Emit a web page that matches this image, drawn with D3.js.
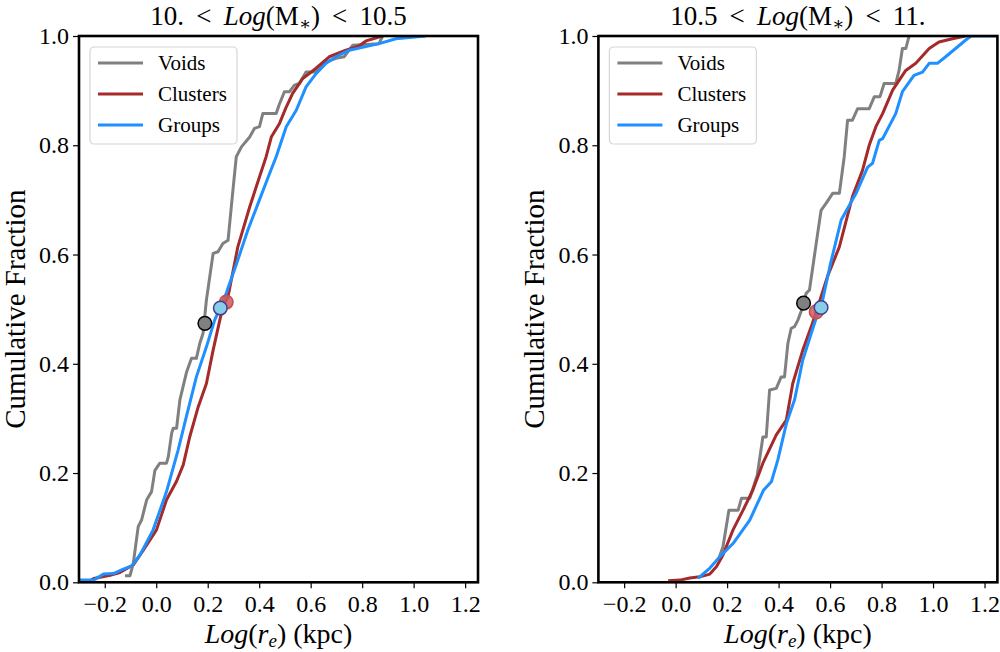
<!DOCTYPE html>
<html>
<head>
<meta charset="utf-8">
<script src="https://cdn.jsdelivr.net/npm/d3@7"></script>
<style>
  body { margin: 0; background: #fff; }
  svg { display: block; font-family: "Liberation Serif", "DejaVu Serif", serif; }
</style>
</head>
<body>
<div id="chart"></div>
<script>
// cumulative distributions of Log(r_e): [logRe, fraction]
var samples = ["Voids", "Clusters", "Groups"];
var sampleColors = ["#808080", "#a52a2a", "#1e90ff"];
var markerFill = ["#808080", "#cd5c5c", "#87ceeb"];
var markerEdge = ["#000000", "#c05050", "#483d8b"];

var titleLow = ["10.", "10.5"];
var titleHigh = ["10.5", "11."];

var xTicks = [-0.2, 0.0, 0.2, 0.4, 0.6, 0.8, 1.0, 1.2];
var yTicks = [0.0, 0.2, 0.4, 0.6, 0.8, 1.0];

var voidsLow = [[-0.121,0.012],[-0.102,0.012],[-0.089,0.035],[-0.070,0.102],[-0.057,0.114],[-0.037,0.151],[-0.018,0.166],[-0.005,0.205],[0.014,0.218],[0.040,0.218],[0.047,0.230],[0.060,0.273],[0.066,0.282],[0.079,0.282],[0.092,0.334],[0.118,0.385],[0.137,0.410],[0.156,0.410],[0.169,0.437],[0.182,0.456],[0.195,0.517],[0.221,0.602],[0.240,0.605],[0.259,0.620],[0.279,0.626],[0.298,0.718],[0.311,0.779],[0.331,0.797],[0.363,0.815],[0.382,0.831],[0.401,0.834],[0.414,0.858],[0.466,0.858],[0.479,0.876],[0.498,0.898],[0.518,0.898],[0.537,0.910],[0.556,0.913],[0.582,0.934],[0.621,0.934],[0.647,0.950],[0.698,0.959],[0.730,0.962],[0.763,0.983],[0.865,0.986],[0.880,1.0]];
var clustersLow = [[-0.26,0.002],[-0.243,0.007],[-0.179,0.013],[-0.141,0.018],[-0.089,0.032],[-0.050,0.059],[0.001,0.096],[0.040,0.151],[0.079,0.185],[0.105,0.215],[0.130,0.266],[0.163,0.321],[0.195,0.364],[0.221,0.425],[0.247,0.480],[0.259,0.504],[0.279,0.523],[0.317,0.614],[0.363,0.687],[0.401,0.742],[0.427,0.779],[0.447,0.815],[0.479,0.840],[0.505,0.870],[0.530,0.895],[0.569,0.922],[0.621,0.941],[0.672,0.962],[0.737,0.974],[0.789,0.982],[0.815,0.991],[0.879,1.0]];
var groupsLow = [[-0.30,0.004],[-0.243,0.004],[-0.205,0.015],[-0.166,0.016],[-0.128,0.024],[-0.095,0.030],[-0.063,0.050],[-0.012,0.096],[0.040,0.166],[0.085,0.242],[0.118,0.305],[0.156,0.376],[0.195,0.431],[0.227,0.480],[0.247,0.501],[0.272,0.529],[0.317,0.590],[0.356,0.645],[0.401,0.700],[0.440,0.748],[0.466,0.779],[0.505,0.834],[0.544,0.864],[0.582,0.907],[0.621,0.931],[0.660,0.950],[0.698,0.962],[0.750,0.974],[0.866,0.986],[0.931,0.995],[1.047,1.0]];
var mediansLow = [[0.189,0.474],[0.272,0.513],[0.249,0.502]];

var voidsHigh = [[0.165,0.040],[0.184,0.065],[0.207,0.132],[0.243,0.132],[0.256,0.154],[0.288,0.154],[0.317,0.196],[0.339,0.266],[0.352,0.266],[0.365,0.352],[0.391,0.355],[0.410,0.376],[0.423,0.376],[0.436,0.437],[0.449,0.465],[0.462,0.468],[0.475,0.480],[0.494,0.504],[0.507,0.529],[0.520,0.535],[0.546,0.620],[0.565,0.681],[0.585,0.694],[0.610,0.712],[0.636,0.712],[0.655,0.779],[0.668,0.846],[0.687,0.846],[0.707,0.867],[0.752,0.867],[0.772,0.889],[0.794,0.889],[0.810,0.913],[0.855,0.913],[0.868,0.937],[0.881,0.977],[0.894,0.977],[0.907,1.0]];
var clustersHigh = [[-0.029,0.003],[0.017,0.004],[0.055,0.008],[0.094,0.010],[0.133,0.015],[0.159,0.029],[0.184,0.050],[0.223,0.096],[0.262,0.132],[0.300,0.169],[0.339,0.218],[0.391,0.270],[0.430,0.297],[0.455,0.364],[0.494,0.425],[0.527,0.468],[0.546,0.495],[0.590,0.560],[0.636,0.614],[0.687,0.706],[0.726,0.754],[0.752,0.800],[0.778,0.834],[0.804,0.858],[0.843,0.901],[0.894,0.937],[0.933,0.950],[0.985,0.977],[1.023,0.989],[1.075,0.995],[1.126,1.0]];
var groupsHigh = [[0.087,0.007],[0.133,0.026],[0.172,0.047],[0.223,0.071],[0.288,0.114],[0.342,0.169],[0.372,0.184],[0.397,0.224],[0.430,0.290],[0.462,0.334],[0.494,0.407],[0.527,0.456],[0.552,0.492],[0.565,0.503],[0.600,0.580],[0.643,0.663],[0.701,0.712],[0.746,0.760],[0.765,0.767],[0.791,0.809],[0.804,0.812],[0.855,0.858],[0.881,0.898],[0.926,0.928],[0.959,0.934],[0.985,0.950],[1.017,0.950],[1.049,0.962],[1.133,0.995],[1.150,1.0],[1.250,1.0]];
var mediansHigh = [[0.497,0.511],[0.546,0.495],[0.565,0.503]];

var WIDTH = 1000, HEIGHT = 652;

var svg = d3.select("#chart").append("svg")
    .attr("width", WIDTH)
    .attr("height", HEIGHT);

function drawPanel(left, curves, medians, title) {
    /* one panel: axes, the three CDFs, the median markers and the legend */
    var top = 36, bottom = 582.3, w = 399;
    var x = d3.scaleLinear().domain([-0.3, 1.25]).range([left, left + w]);
    var y = d3.scaleLinear().domain([0, 1]).range([bottom, top]);
    var g = svg.append("g");

    var clipId = "clip" + Math.round(left);
    g.append("clipPath").attr("id", clipId)
        .append("rect").attr("x", left).attr("y", top).attr("width", w).attr("height", bottom - top);

    var line = d3.line().x(function(d){ return x(d[0]); }).y(function(d){ return y(d[1]); });
    var plot = g.append("g").attr("clip-path", "url(#" + clipId + ")");
    curves.forEach(function(c, i){
        plot.append("path")
            .attr("d", line(c))
            .attr("fill", "none")
            .attr("stroke", sampleColors[i])
            .attr("stroke-width", 3)
            .attr("stroke-linejoin", "round");
    });
    // clusters marker sits under the groups one
    [0, 1, 2].forEach(function(i){
        g.append("circle")
            .attr("cx", x(medians[i][0]))
            .attr("cy", y(medians[i][1]))
            .attr("r", 6.8)
            .attr("fill", markerFill[i])
            .attr("fill-opacity", i == 1 ? 0.85 : 1)
            .attr("stroke", markerEdge[i])
            .attr("stroke-width", 1.5);
    });

    var xAxis = g.append("g").attr("transform", "translate(0," + bottom + ")")
        .call(d3.axisBottom(x).tickValues(xTicks).tickSize(6).tickPadding(5).tickFormat(d3.format(".1f")));
    var yAxis = g.append("g").attr("transform", "translate(" + left + ",0)")
        .call(d3.axisLeft(y).tickValues(yTicks).tickSize(6).tickPadding(4).tickFormat(d3.format(".1f")));
    [xAxis, yAxis].forEach(function(a){
        a.select(".domain").remove();
        a.selectAll(".tick line").attr("stroke", "#000").attr("stroke-width", 1.2);
        a.selectAll(".tick text").attr("font-family", "Liberation Serif").attr("font-size", 24).attr("fill", "#000");
    });
    xAxis.selectAll(".tick text").attr("dy", "0.8em");

    g.append("rect")
        .attr("x", left).attr("y", top).attr("width", w).attr("height", bottom - top)
        .attr("fill", "none").attr("stroke", "#000").attr("stroke-width", 2.6);

    // title with math parts
    var t = g.append("text")
        .attr("x", left + w / 2).attr("y", 25)
        .attr("text-anchor", "middle").attr("font-size", 27);
    t.append("tspan").text(title[0] + "\u2009 < \u2009");
    t.append("tspan").attr("font-style", "italic").text("Log");
    t.append("tspan").text("(M");
    t.append("tspan").attr("font-size", 18).attr("dy", 5).text("∗");
    t.append("tspan").attr("dy", -5).text(")\u2009 < \u2009" + title[1]);

    var xl = g.append("text")
        .attr("x", left + w / 2).attr("y", 643)
        .attr("text-anchor", "middle").attr("font-size", 28);
    xl.append("tspan").attr("font-style", "italic").text("Log");
    xl.append("tspan").text("(");
    xl.append("tspan").attr("font-style", "italic").text("r");
    xl.append("tspan").attr("font-style", "italic").attr("font-size", 19).attr("dy", 4).text("e");
    xl.append("tspan").attr("dy", -4).text(") (kpc)");

    g.append("text")
        .attr("transform", "translate(" + (left - 54) + "," + ((top + bottom) / 2) + ") rotate(-90)")
        .attr("text-anchor", "middle").attr("font-size", 29)
        .text("Cumulative Fraction");

    // legend
    var lg = g.append("g").attr("transform", "translate(" + (left + 11) + ",47)");
    lg.append("rect").attr("width", 147).attr("height", 97).attr("rx", 4)
        .attr("fill", "#fff").attr("fill-opacity", 0.8)
        .attr("stroke", "#d6d6d6").attr("stroke-width", 1.2);
    samples.forEach(function(s, i){
        var yy = 16 + i * 31;
        lg.append("line").attr("x1", 8).attr("x2", 53).attr("y1", yy).attr("y2", yy)
            .attr("stroke", sampleColors[i]).attr("stroke-width", 3);
        lg.append("text").attr("x", 68).attr("y", yy + 7).attr("font-size", 21).text(s);
    });
}

drawPanel(79, [voidsLow, clustersLow, groupsLow], mediansLow, titleLow);
drawPanel(598.4, [voidsHigh, clustersHigh, groupsHigh], mediansHigh, titleHigh);
</script>
</body>
</html>
